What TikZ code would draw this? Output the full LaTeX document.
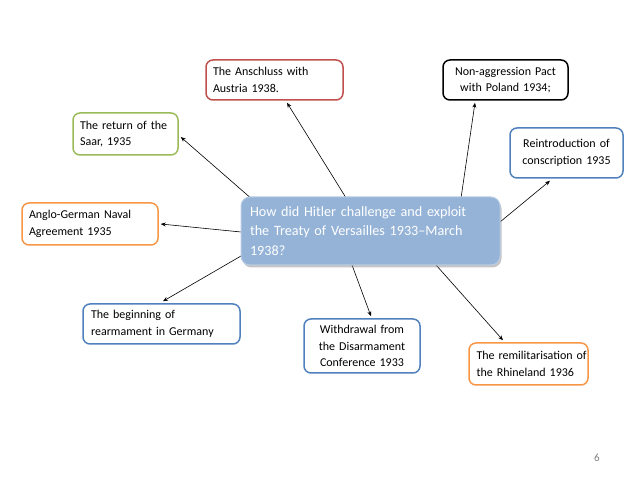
\documentclass[tikz,border=0pt]{standalone}
\usepackage{fontspec}
\setmainfont{Carlito}
\usetikzlibrary{arrows.meta,calc,shadows}
\definecolor{cred}{HTML}{C0504D}
\definecolor{cgreen}{HTML}{9BBB59}
\definecolor{cblue}{HTML}{4F81BD}
\definecolor{corange}{HTML}{F79646}
\definecolor{cfill}{HTML}{95B3D7}
\definecolor{cborder}{HTML}{B9CDE5}
\tikzset{
  box/.style={draw, line width=1.5pt, rounded corners=7pt, fill=white, inner xsep=7pt, inner ysep=3pt,
    font=\fontsize{12}{16.5}\selectfont},
  lbox/.style={box, align=left},
  cbox/.style={box, align=center},
  conn/.style={line width=0.6pt, -{Stealth[length=5pt,width=4pt]}},
  central/.style={draw=cborder, line width=1pt, fill=cfill, rounded corners=9pt, text=white, align=left,
    inner xsep=9pt, font=\fontsize{14.2}{19.5}\selectfont,
    drop shadow={shadow xshift=1.5pt, shadow yshift=-2.5pt, fill=black!45, opacity=0.5}}
}
\begin{document}
\begin{tikzpicture}[x=1pt,y=-1pt]
\useasboundingbox (0,0) rectangle (638,478);
\fill[white] (0,0) rectangle (638,478);

\node[lbox, draw=cred, minimum width=137pt, minimum height=40pt, text width=123pt] (ansch) at (274.5,80) {The Anschluss with\\Austria 1938.};
\node[cbox, draw=black, minimum width=125pt, minimum height=40pt, text width=111pt] (pact) at (505.5,80) {Non-aggression Pact\\with Poland 1934;};
\node[lbox, draw=cgreen, minimum width=105pt, minimum height=42pt, text width=91pt] (saar) at (125.5,134) {The return of the\\Saar, 1935};
\node[cbox, draw=cblue, minimum width=113pt, minimum height=50pt, text width=99pt] (consc) at (566.5,153) {Reintroduction of\\conscription 1935};
\node[lbox, draw=corange, minimum width=136pt, minimum height=42pt, text width=122pt] (naval) at (90,224) {Anglo-German Naval\\Agreement 1935};
\node[lbox, draw=cblue, minimum width=157pt, minimum height=40pt, text width=141pt] (rearm) at (161.5,324) {The beginning of\\rearmament in Germany};
\node[cbox, draw=cblue, minimum width=116pt, minimum height=54pt, text width=102pt] (disarm) at (362,346) {Withdrawal from\\the Disarmament\\Conference 1933};
\node[lbox, draw=corange, minimum width=119pt, minimum height=42pt, text width=104pt] (rhine) at (528.5,364) {\makebox[104pt][l]{The remilitarisation of}\\the Rhineland 1936};

\draw[conn] ($(370.5,197)+(-25,0)$) coordinate (c1) -- ($(ansch.south)+(12.5,2)$);
\draw[conn] (460,205) coordinate (c2) -- ($(pact.south)+(-30.5,2)$);
\draw[conn] (253,200) coordinate (c3) -- ($(saar.east)+(2,3)$);
\draw[conn] (500,222) coordinate (c4) -- ($(consc.south)+(-16.5,2)$);
\draw[conn] (241,232) coordinate (c5) -- ($(naval.east)+(2,0)$);
\draw[conn] (241,256) coordinate (c6) -- ($(rearm.north)+(1.5,-2)$);
\draw[conn] (352,265) coordinate (c7) -- ($(disarm.north)+(9,-2)$);
\draw[conn] (436,265) coordinate (c8) -- ($(rhine.north)+(-25.5,-2)$);

\node[central, minimum width=259pt, minimum height=68pt, text width=241pt] (main) at (370.5,231) {How did Hitler challenge and exploit\\the Treaty of Versailles 1933--March\\1938?};

\node[text=black!50, font=\fontsize{11}{13}\selectfont, inner sep=0pt] (page) at (597,458) {6};
\end{tikzpicture}
\end{document}
